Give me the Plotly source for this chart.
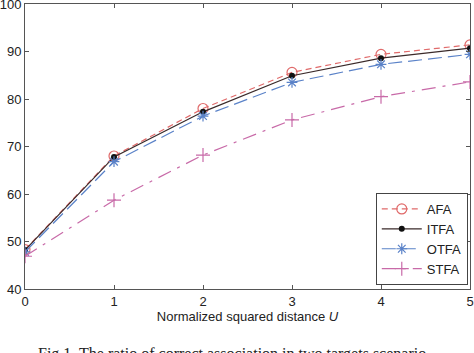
import plotly.graph_objects as go

x_vals = [0, 1, 2, 3, 4, 5]
afa = [48.3, 68.0, 78.0, 85.6, 89.4, 91.4]
itfa = [48.2, 67.8, 77.3, 84.9, 88.6, 90.7]
otfa = [47.8, 66.8, 76.4, 83.5, 87.3, 89.4]
stfa = [46.9, 58.7, 68.2, 75.6, 80.5, 83.6]

x_ticks = [0, 1, 2, 3, 4, 5]
y_ticks = [40, 50, 60, 70, 80, 90, 100]

fig = go.Figure()
fig.add_trace(go.Scatter(x=x_vals, y=afa, name="AFA", mode="lines+markers",
    line=dict(color="#e06a6a", width=1.2, dash="6px,4px"),
    marker=dict(symbol="circle-open", size=10, color="#e06a6a", line=dict(width=1.2))))
fig.add_trace(go.Scatter(x=x_vals, y=itfa, name="ITFA", mode="lines+markers",
    line=dict(color="#3a2a2a", width=1.2),
    marker=dict(symbol="circle", size=6, color="#111111")))
fig.add_trace(go.Scatter(x=x_vals, y=otfa, name="OTFA", mode="lines+markers",
    line=dict(color="#5a82c8", width=1.2, dash="14px,6px"),
    marker=dict(symbol="asterisk-open", size=9, color="#5a82c8", line=dict(width=1.2, color="#5a82c8"))))
fig.add_trace(go.Scatter(x=x_vals, y=stfa, name="STFA", mode="lines+markers",
    line=dict(color="#c86aa8", width=1.2, dash="14px,7px,3px,7px"),
    marker=dict(symbol="cross-thin-open", size=10, color="#c86aa8", line=dict(width=1.2, color="#c86aa8"))))

axis_common = dict(showgrid=False, zeroline=False, ticks="inside", ticklen=4,
                   tickcolor="#555", showline=True, linecolor="#555", linewidth=1,
                   mirror="ticks", ticklabeloverflow="allow", automargin=False,
                   tickfont=dict(family="Liberation Sans", size=13, color="#222"))

fig.update_layout(
    width=474, height=353,
    margin=dict(l=25, r=4, t=4, b=64),
    plot_bgcolor="white", paper_bgcolor="white",
    showlegend=True,
    legend=dict(x=0.995, y=0.014, xanchor="right", yanchor="bottom",
                bgcolor="white", bordercolor="#444", borderwidth=1,
                font=dict(family="Liberation Sans", size=13, color="#222"),
                tracegroupgap=0, itemwidth=40),
    xaxis=dict(range=[0, 5], tickvals=x_ticks, ticktext=[str(t) for t in x_ticks],
               title=dict(text="Normalized squared distance <i>U</i>",
                          font=dict(family="Liberation Sans", size=13, color="#222"), standoff=4),
               **axis_common),
    yaxis=dict(range=[40, 100], tickvals=y_ticks, ticktext=[str(t) for t in y_ticks], **axis_common),
)
fig.add_annotation(text="Fig.1. The ratio of correct association in two targets scenario",
                   xref="paper", yref="paper", x=0.465, y=-0.19, xanchor="center", yanchor="top",
                   showarrow=False, font=dict(family="Liberation Serif", size=16, color="#222"))

fig.write_html("out.html")
